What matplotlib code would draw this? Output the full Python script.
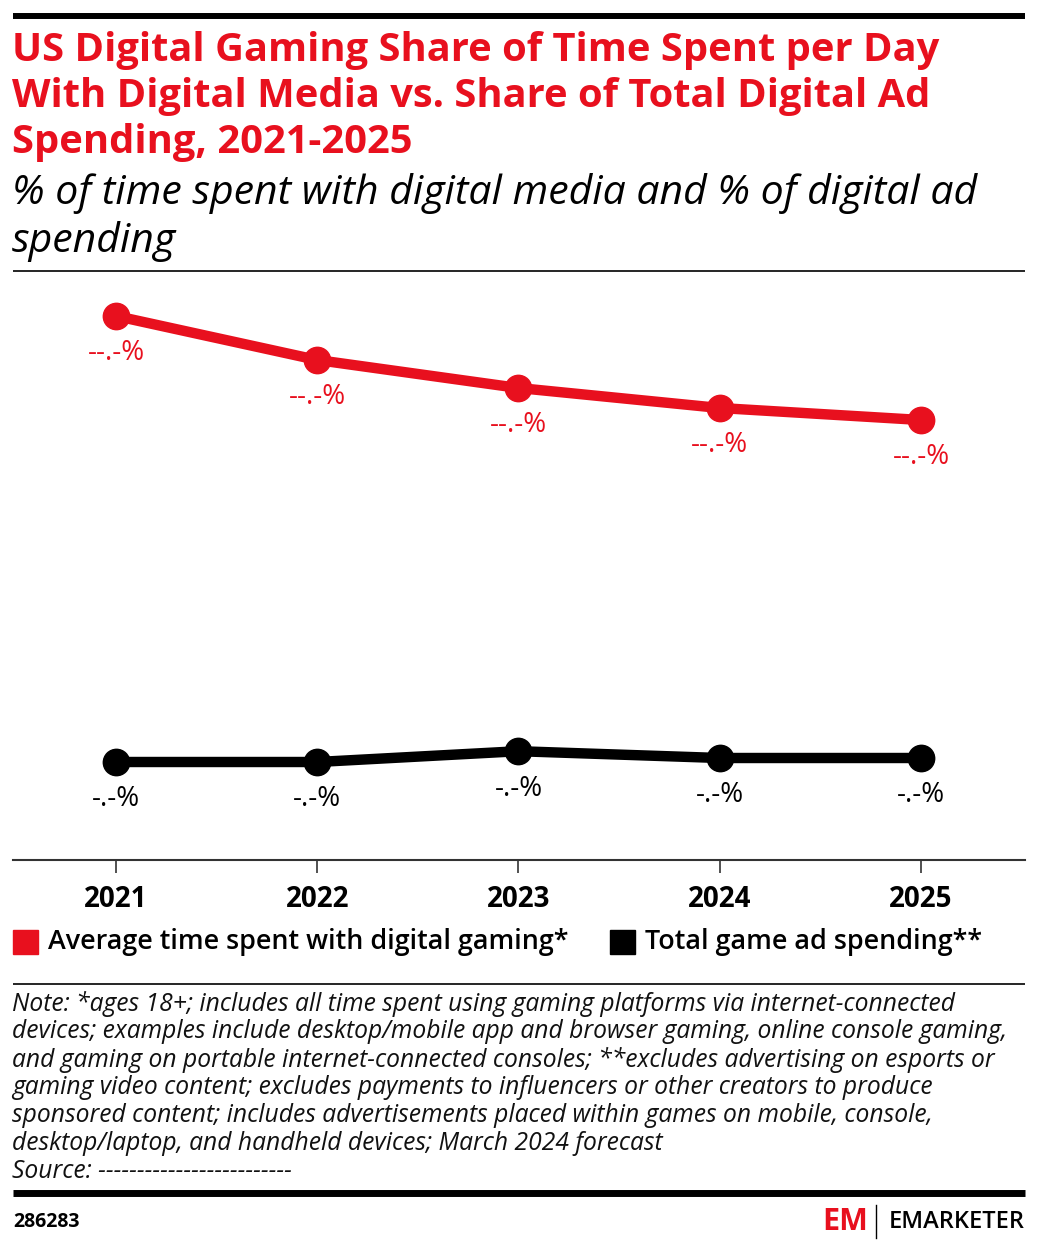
import matplotlib.pyplot as plt
from matplotlib.lines import Line2D
from matplotlib.patches import Rectangle

years = [2021, 2022, 2023, 2024, 2025]
time_share = [13.6, 12.5, 11.8, 11.3, 11.0]
ad_share = [2.45, 2.45, 2.72, 2.55, 2.55]
time_labels = ['--.-%'] * 5
ad_labels = ['-.-%'] * 5

RED = '#e8101e'
BLACK = '#000000'

plt.rcParams['font.family'] = ['Open Sans', 'DejaVu Sans']

W, H = 1038, 1251
fig = plt.figure(figsize=(W / 100, H / 100), dpi=100)


def fx(px):
    return px / W


def fy(py):
    return 1 - py / H


def hline(y, lw, x0=13, x1=1025):
    fig.add_artist(Line2D([fx(x0), fx(x1)], [fy(y), fy(y)], color='black', lw=lw,
                          transform=fig.transFigure, solid_capstyle='butt'))


# header
hline(16, 4.3)
title = ['US Digital Gaming Share of Time Spent per Day',
         'With Digital Media vs. Share of Total Digital Ad',
         'Spending, 2021-2025']
for i, t in enumerate(title):
    fig.text(fx(12), fy(50 + i * 46), t, color=RED, fontsize=28.7, fontweight='bold',
             va='center', ha='left')
subtitle = ['% of time spent with digital media and % of digital ad', 'spending']
for i, t in enumerate(subtitle):
    fig.text(fx(12), fy(194 + i * 47), t, color='black', fontsize=29.5, style='italic',
             va='center', ha='left')
hline(271, 1.2)

# chart
ax = fig.add_axes([fx(13), fy(860), fx(1012), fy(280) - fy(860)])
ax.plot(years, time_share, color=RED, lw=7.5, marker='o', ms=19, zorder=3)
ax.plot(years, ad_share, color=BLACK, lw=7.5, marker='o', ms=19, zorder=3)
for x, y, s in zip(years, time_share, time_labels):
    ax.annotate(s, (x, y), xytext=(0, -27), textcoords='offset points', ha='center',
                va='center', color=RED, fontsize=20)
for x, y, s in zip(years, ad_share, ad_labels):
    ax.annotate(s, (x, y), xytext=(0, -27), textcoords='offset points', ha='center',
                va='center', color=BLACK, fontsize=20)

ax.set_xlim(2020.488, 2025.517)
ax.set_ylim(0, 14.5)
ax.set_yticks([])
ax.set_xticks(years)
ax.set_xticklabels([str(y) for y in years], fontsize=20, fontweight='bold')
ax.tick_params(axis='x', length=9, width=1.2, color='#333333', pad=9)
for side in ['top', 'right', 'left']:
    ax.spines[side].set_visible(False)
ax.spines['bottom'].set_linewidth(1.5)
ax.spines['bottom'].set_color('#333333')

# legend
legend = [('Average time spent with digital gaming*', RED, 13),
          ('Total game ad spending**', BLACK, 610)]
for text, c, x in legend:
    fig.add_artist(Rectangle((fx(x), fy(954)), fx(25), fy(930) - fy(954), color=c,
                             transform=fig.transFigure))
    fig.text(fx(x + 35), fy(942), text, fontsize=19.4, fontweight='semibold',
             va='center', ha='left')

# note
hline(984, 1.2)
note = ['Note: *ages 18+; includes all time spent using gaming platforms via internet-connected',
        'devices; examples include desktop/mobile app and browser gaming, online console gaming,',
        'and gaming on portable internet-connected consoles; **excludes advertising on esports or',
        'gaming video content; excludes payments to influencers or other creators to produce',
        'sponsored content; includes advertisements placed within games on mobile, console,',
        'desktop/laptop, and handheld devices; March 2024 forecast',
        'Source: -------------------------']
for i, t in enumerate(note):
    fig.text(fx(12), fy(1004 + i * 28), t, fontsize=17.7, style='italic',
             va='center', ha='left', color='#111111')

# footer
hline(1193, 5)
fig.text(fx(13), fy(1222), '286283', fontsize=14, fontweight='bold', va='center', ha='left')
fig.text(fx(868), fy(1222), 'EM', fontsize=22, fontweight='bold', color=RED,
         va='center', ha='right')
fig.add_artist(Line2D([fx(876), fx(876)], [fy(1205), fy(1238)], color='black', lw=1,
                      transform=fig.transFigure))
fig.text(fx(1025), fy(1222), 'EMARKETER', fontsize=17, fontweight='semibold',
         va='center', ha='right')

fig.savefig('out.png', dpi=100)
